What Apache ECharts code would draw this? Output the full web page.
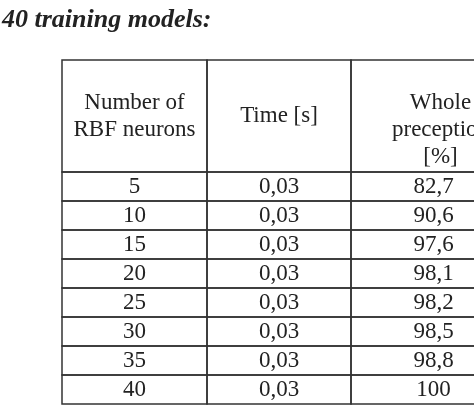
<!DOCTYPE html>
<html><head><meta charset="utf-8">
<script src="https://cdn.jsdelivr.net/npm/echarts@6/dist/echarts.min.js"></script>
<style>html,body{margin:0;background:#fff}#c{width:474px;height:405px}</style>
</head><body><div id="c"></div>
<script>
const title = '40 training models:';
const headers = ['Number of\nRBF neurons', 'Time [s]', 'Whole\npreception\n[%]'];
const neurons = ['5','10','15','20','25','30','35','40'];
const times = ['0,03','0,03','0,03','0,03','0,03','0,03','0,03','0,03'];
const perception = ['82,7','90,6','97,6','98,1','98,2','98,5','98,8','100'];
const colEdges = [0, 145, 289, 454];
const headerH = 112, rowH = 29;
const visibleW = 412;

const cells = [];
headers.forEach((h, c) => cells.push([colEdges[c], colEdges[c+1], 0, headerH, h, c === 2 ? 14 : 0, c === 2 ? 7 : 0]));
const cols = [neurons, times, perception];
for (let r = 0; r < neurons.length; r++) {
  for (let c = 0; c < 3; c++) {
    const y0 = headerH + r * rowH;
    cells.push([colEdges[c], colEdges[c+1], y0, y0 + rowH, cols[c][r], 0, 0]);
  }
}
const chart = echarts.init(document.getElementById('c'));
chart.setOption({
  backgroundColor: '#fff',
  animation: false,
  title: { text: title, left: -3, top: 2,
    textStyle: { fontFamily: 'Liberation Serif', fontStyle: 'italic', fontWeight: 'bold', fontSize: 26, color: '#222' } },
  grid: { left: 62, top: 60, width: visibleW, height: headerH + rowH * 8 },
  xAxis: { type: 'value', min: 0, max: visibleW, show: false },
  yAxis: { type: 'value', min: 0, max: headerH + rowH * 8, inverse: true, show: false },
  series: [{
    type: 'custom',
    clip: false,
    data: cells,
    renderItem: function (params, api) {
      const p0 = api.coord([api.value(0), api.value(2)]);
      const p1 = api.coord([api.value(1), api.value(3)]);
      const d = cells[params.dataIndex];
      return {
        type: 'group',
        children: [
          { type: 'rect', shape: { x: p0[0], y: p0[1], width: p1[0]-p0[0], height: p1[1]-p0[1] },
            style: { fill: 'none', stroke: '#333', lineWidth: 1.5 } },
          { type: 'text', x: (p0[0]+p1[0])/2 + d[6], y: (p0[1]+p1[1])/2 + d[5],
            style: { text: d[4], align: 'center', verticalAlign: 'middle', fontFamily: 'Liberation Serif',
              fontSize: 23, lineHeight: 27, fill: '#222' } }
        ]
      };
    }
  }]
});
</script></body></html>
